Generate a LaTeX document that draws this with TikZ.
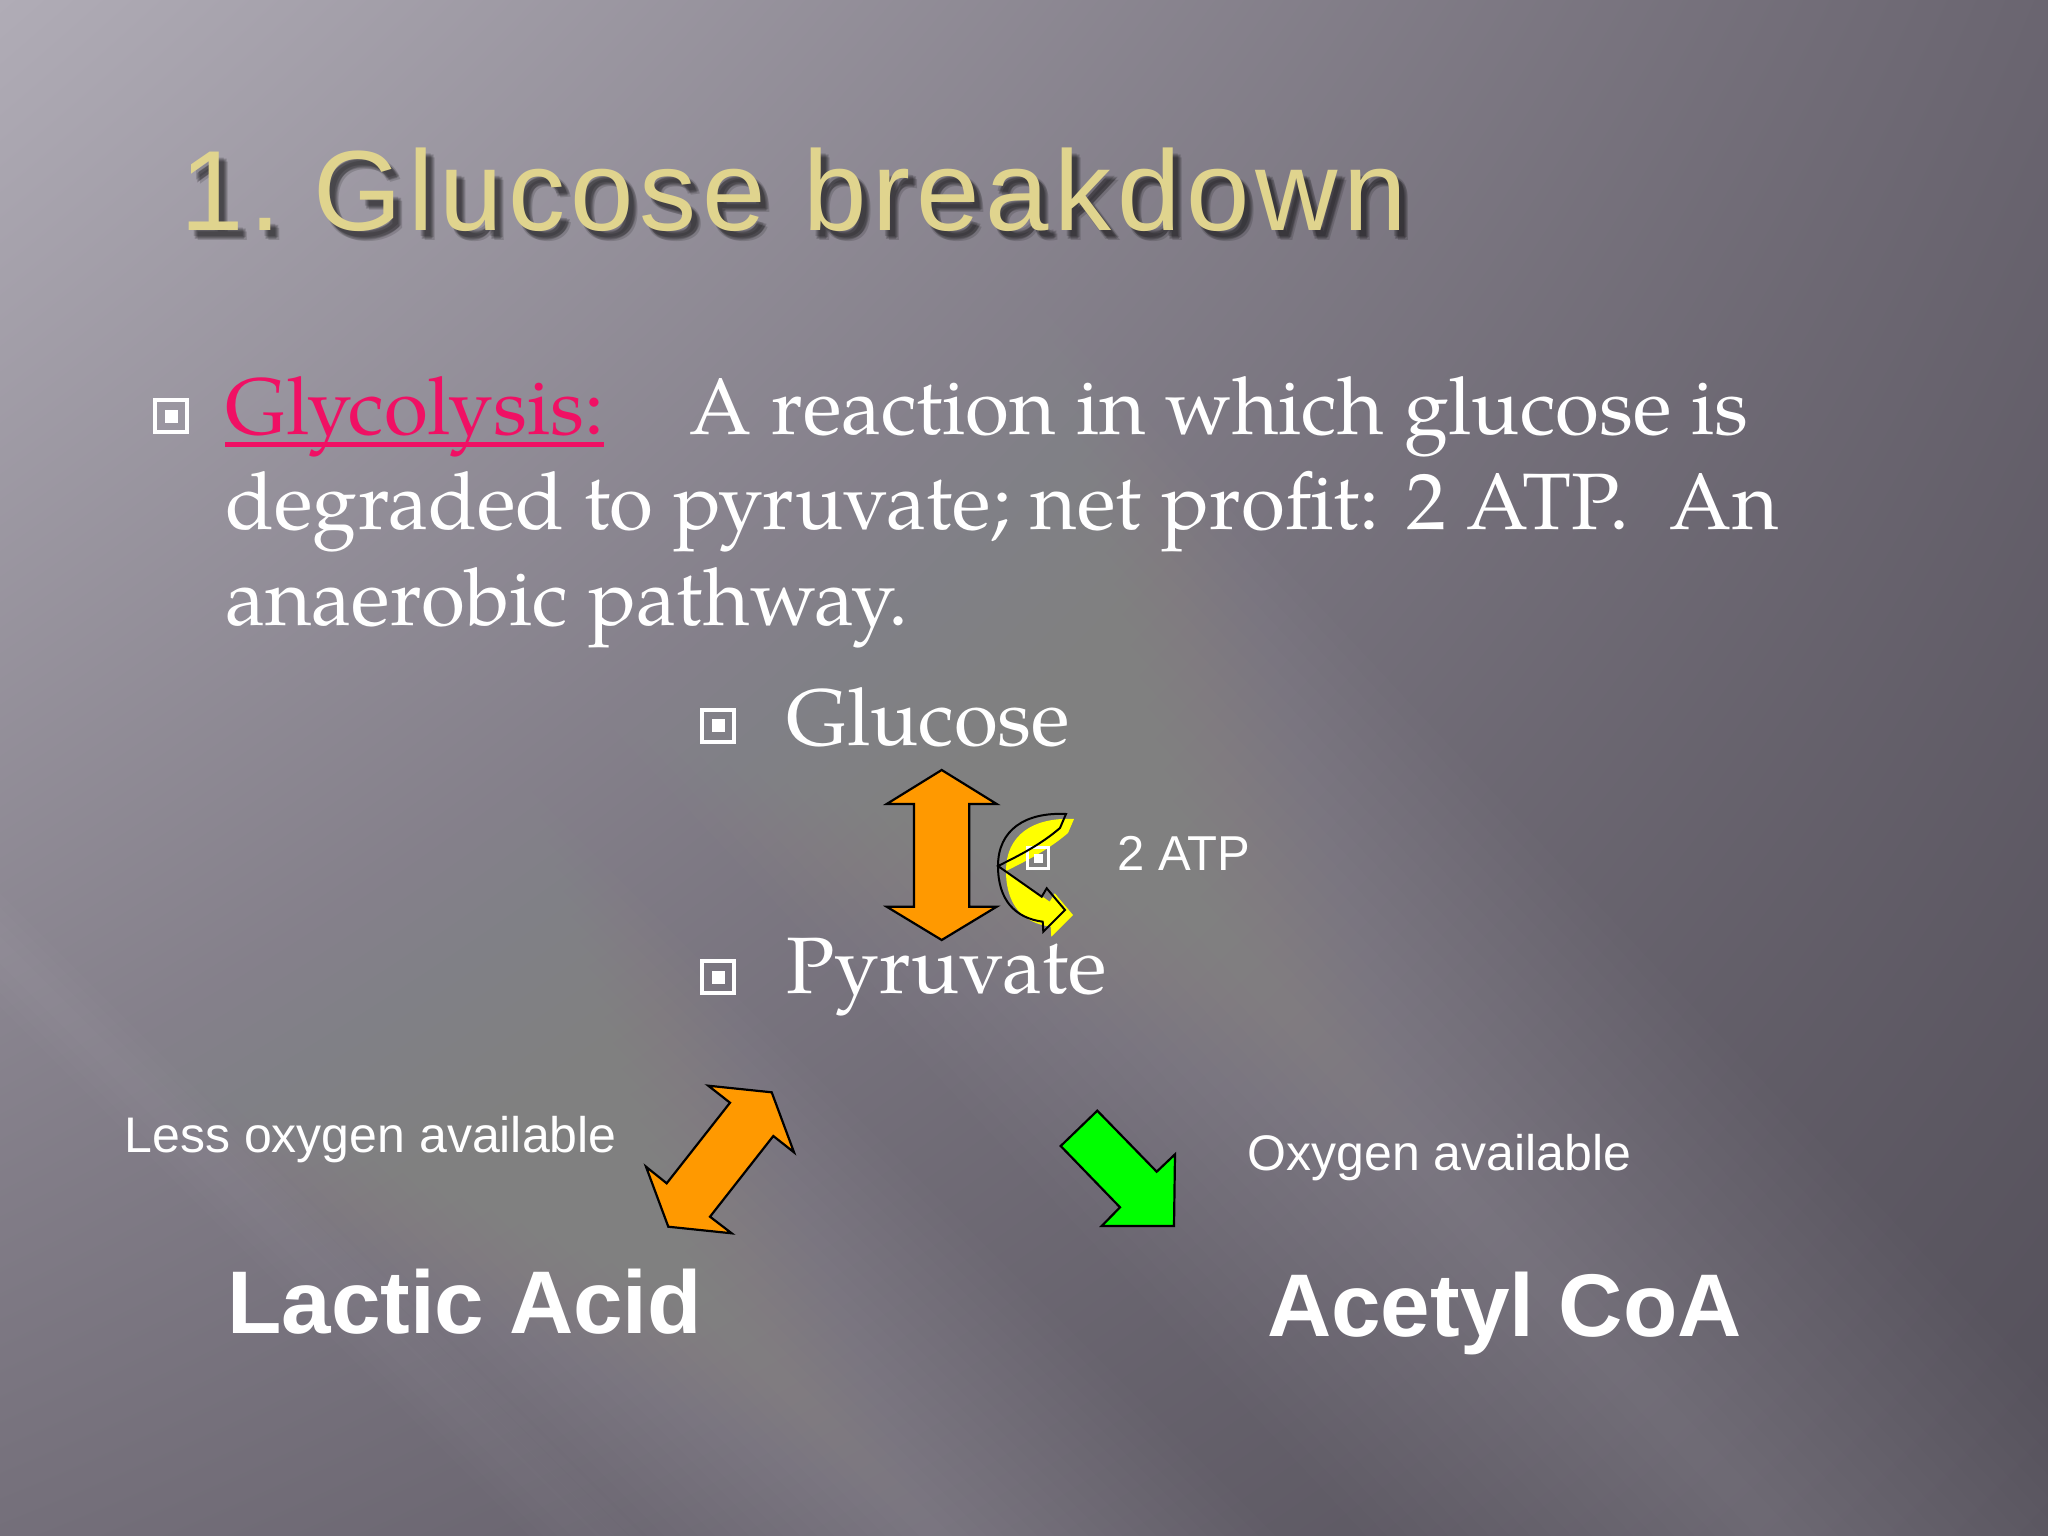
\documentclass[tikz,border=0pt]{standalone}
\usepackage{fontspec}
\setmainfont{TeX Gyre Pagella}
\newfontfamily\arialf{Liberation Sans}
\newfontfamily\titlef[LetterSpace=5]{Liberation Sans}
\usetikzlibrary{calc,shadings}
\definecolor{bgTL}{RGB}{176,172,182}
\definecolor{bgTR}{RGB}{106,101,112}
\definecolor{bgBL}{RGB}{116,111,122}
\definecolor{bgBR}{RGB}{84,80,90}
\definecolor{titlecol}{RGB}{224,212,142}
\definecolor{glycol}{RGB}{240,16,100}
\definecolor{arrorange}{RGB}{255,153,0}
\definecolor{arrgreen}{RGB}{0,255,0}
\definecolor{arryellow}{RGB}{255,255,0}
\newcommand\shadowlayer[3]{\makebox[0pt][l]{\kern#1\raisebox{#2}{\begin{pgfscope}\pgfsetfillopacity{0.14}\color{black}#3\end{pgfscope}}}}
\newcommand\titletext{1.\hspace{-17pt} Glucose breakdown}
\tikzset{
  txt/.style={anchor=base west, inner sep=0pt, text=white},
  bodyfont/.style={font=\fontsize{80}{96}\selectfont},
  subfont/.style={font=\fontsize{80}{96}\selectfont},
  titlefont/.style={font=\titlef\fontsize{114}{132}\selectfont},
  sqbul/.style={draw=white, line width=4pt, minimum size=32pt, inner sep=0pt,
    path picture={\fill[white] ([xshift=-6.5pt,yshift=-6.5pt]path picture bounding box.center) rectangle ([xshift=6.5pt,yshift=6.5pt]path picture bounding box.center);}},
  blockarrow/.style={draw=black, line width=2.2pt, line join=miter},
}
\begin{document}
\begin{tikzpicture}[x=1pt,y=-1pt]
\useasboundingbox (0,0) rectangle (2048,1536);
% background
\shade[upper left=bgTL, upper right=bgTR, lower left=bgBL, lower right=bgBR] (0,0) rectangle (2048,1536);
\begin{scope}
\clip (0,0) rectangle (2048,1536);
\coordinate (a1) at (-250,-636);
\coordinate (a2) at (2150,1936);
\foreach \h in {15,30,...,300} {
  \fill[white,opacity=0.0085] ($(a1)!\h pt!90:(a2)$) -- ($(a2)!\h pt!-90:(a1)$) -- ($(a2)!\h pt!90:(a1)$) -- ($(a1)!\h pt!-90:(a2)$) -- cycle;
}
\coordinate (b1) at (-600,0);
\coordinate (b2) at (1300,1900);
\foreach \h in {12,24,...,240} {
  \fill[white,opacity=0.0095] ($(b1)!\h pt!90:(b2)$) -- ($(b2)!\h pt!-90:(b1)$) -- ($(b2)!\h pt!90:(b1)$) -- ($(b1)!\h pt!-90:(b2)$) -- cycle;
}
\coordinate (c1) at (-600,350);
\coordinate (c2) at (1100,2050);
\foreach \h in {10,20,...,40} {
  \fill[white,opacity=0.012] ($(c1)!\h pt!90:(c2)$) -- ($(c2)!\h pt!-90:(c1)$) -- ($(c2)!\h pt!90:(c1)$) -- ($(c1)!\h pt!-90:(c2)$) -- cycle;
}
\end{scope}

% title with soft shadow (one node)
\node[txt, text=titlecol, titlefont] (title) at (180,230)
  {\shadowlayer{5pt}{-6pt}{\titletext}\shadowlayer{7pt}{-8pt}{\titletext}\shadowlayer{9pt}{-10pt}{\titletext}\shadowlayer{6pt}{-9pt}{\titletext}\shadowlayer{8pt}{-7pt}{\titletext}\titletext};

% body
\node[sqbul] (bul1) at (171,416) {};
\node[txt, bodyfont, text=glycol] (gly) at (225,434) {Glycolysis:};
\draw[glycol, line width=5pt] ($(gly.base west)+(0,10)$) -- ($(gly.base east)+(0,10)$);
\node[txt, bodyfont] (line1) at (689,434) {A reaction in which glucose is};
\node[txt, bodyfont] (line2) at (225,529) {degraded to pyruvate; net profit: 2 ATP.\ \ An};
\node[txt, bodyfont] (line3) at (225,625) {anaerobic pathway.};

% sub bullets
\node[sqbul] (bulg) at (718,725.5) {};
\node[txt, subfont] (glucose) at (786,745) {Glucose};
\node[sqbul] (bulp) at (718,977) {};
\node[txt, subfont] (pyruvate) at (786,993) {Pyruvate};

% vertical double arrow
\draw[blockarrow, fill=arrorange] (941.7,770) -- (996.7,804) -- (969.3,804) -- (969.3,906.7) -- (996.7,906.7) -- (941.7,940) -- (886.7,906.7) -- (914,906.7) -- (914,804) -- (886.7,804) -- cycle;

% curved ATP arrow
\begin{scope}[shift={(8,5)}]
\fill[arryellow] (998,866) .. controls (998,830) and (1025,812) .. (1066,814) -- (1060,828) .. controls (1040,845) and (1020,855) .. (998,866) -- (1041.7,896.7) -- (1046.7,888.3) -- (1065,910) -- (1043.3,931.7) -- (1042.7,921.7) .. controls (1015,918) and (998,900) .. (998,866) -- cycle;
\end{scope}
\node[draw=white, line width=3pt, minimum size=21pt, inner sep=0pt,
  path picture={\fill[white] ([xshift=-4.5pt,yshift=-4.5pt]path picture bounding box.center) rectangle ([xshift=4.5pt,yshift=4.5pt]path picture bounding box.center);}] (bulatp) at (1038,858) {};
\draw[black, line width=2pt, line join=miter] (998,866) .. controls (998,830) and (1025,812) .. (1066,814) -- (1060,828) .. controls (1040,845) and (1020,855) .. (998,866) -- (1041.7,896.7) -- (1046.7,888.3) -- (1065,910) -- (1043.3,931.7) -- (1042.7,921.7) .. controls (1015,918) and (998,900) .. (998,866) -- cycle;
\node[txt, font=\arialf\fontsize{49}{58}\selectfont] (atp) at (1117,870) {2 ATP};

% lower arrows
\draw[blockarrow, fill=arrorange] (771.7,1092.3) -- (794,1152.3) -- (773.3,1136) -- (710,1216.7) -- (731.7,1233.3) -- (668.3,1226.7) -- (646,1166.7) -- (666.7,1183.3) -- (730,1102.7) -- (708.3,1085.7) -- cycle;
\draw[blockarrow, fill=arrgreen] (1097.3,1110.7) -- (1156.7,1171.7) -- (1175,1154.3) -- (1174,1226) -- (1101.7,1226) -- (1120,1207.3) -- (1060.7,1146) -- cycle;

\node[txt, font=\arialf\fontsize{50}{60}\selectfont] (less) at (124.5,1152.7) {Less oxygen available};
\node[txt, font=\arialf\fontsize{50}{60}\selectfont] (oxy) at (1247.5,1170) {Oxygen available};
\node[txt, font=\arialf\bfseries\fontsize{89}{106}\selectfont] (lactic) at (227,1333) {Lactic Acid};
\node[txt, font=\arialf\bfseries\fontsize{89}{106}\selectfont] (acetyl) at (1267,1336.6) {Acetyl CoA};
\end{tikzpicture}
\end{document}
